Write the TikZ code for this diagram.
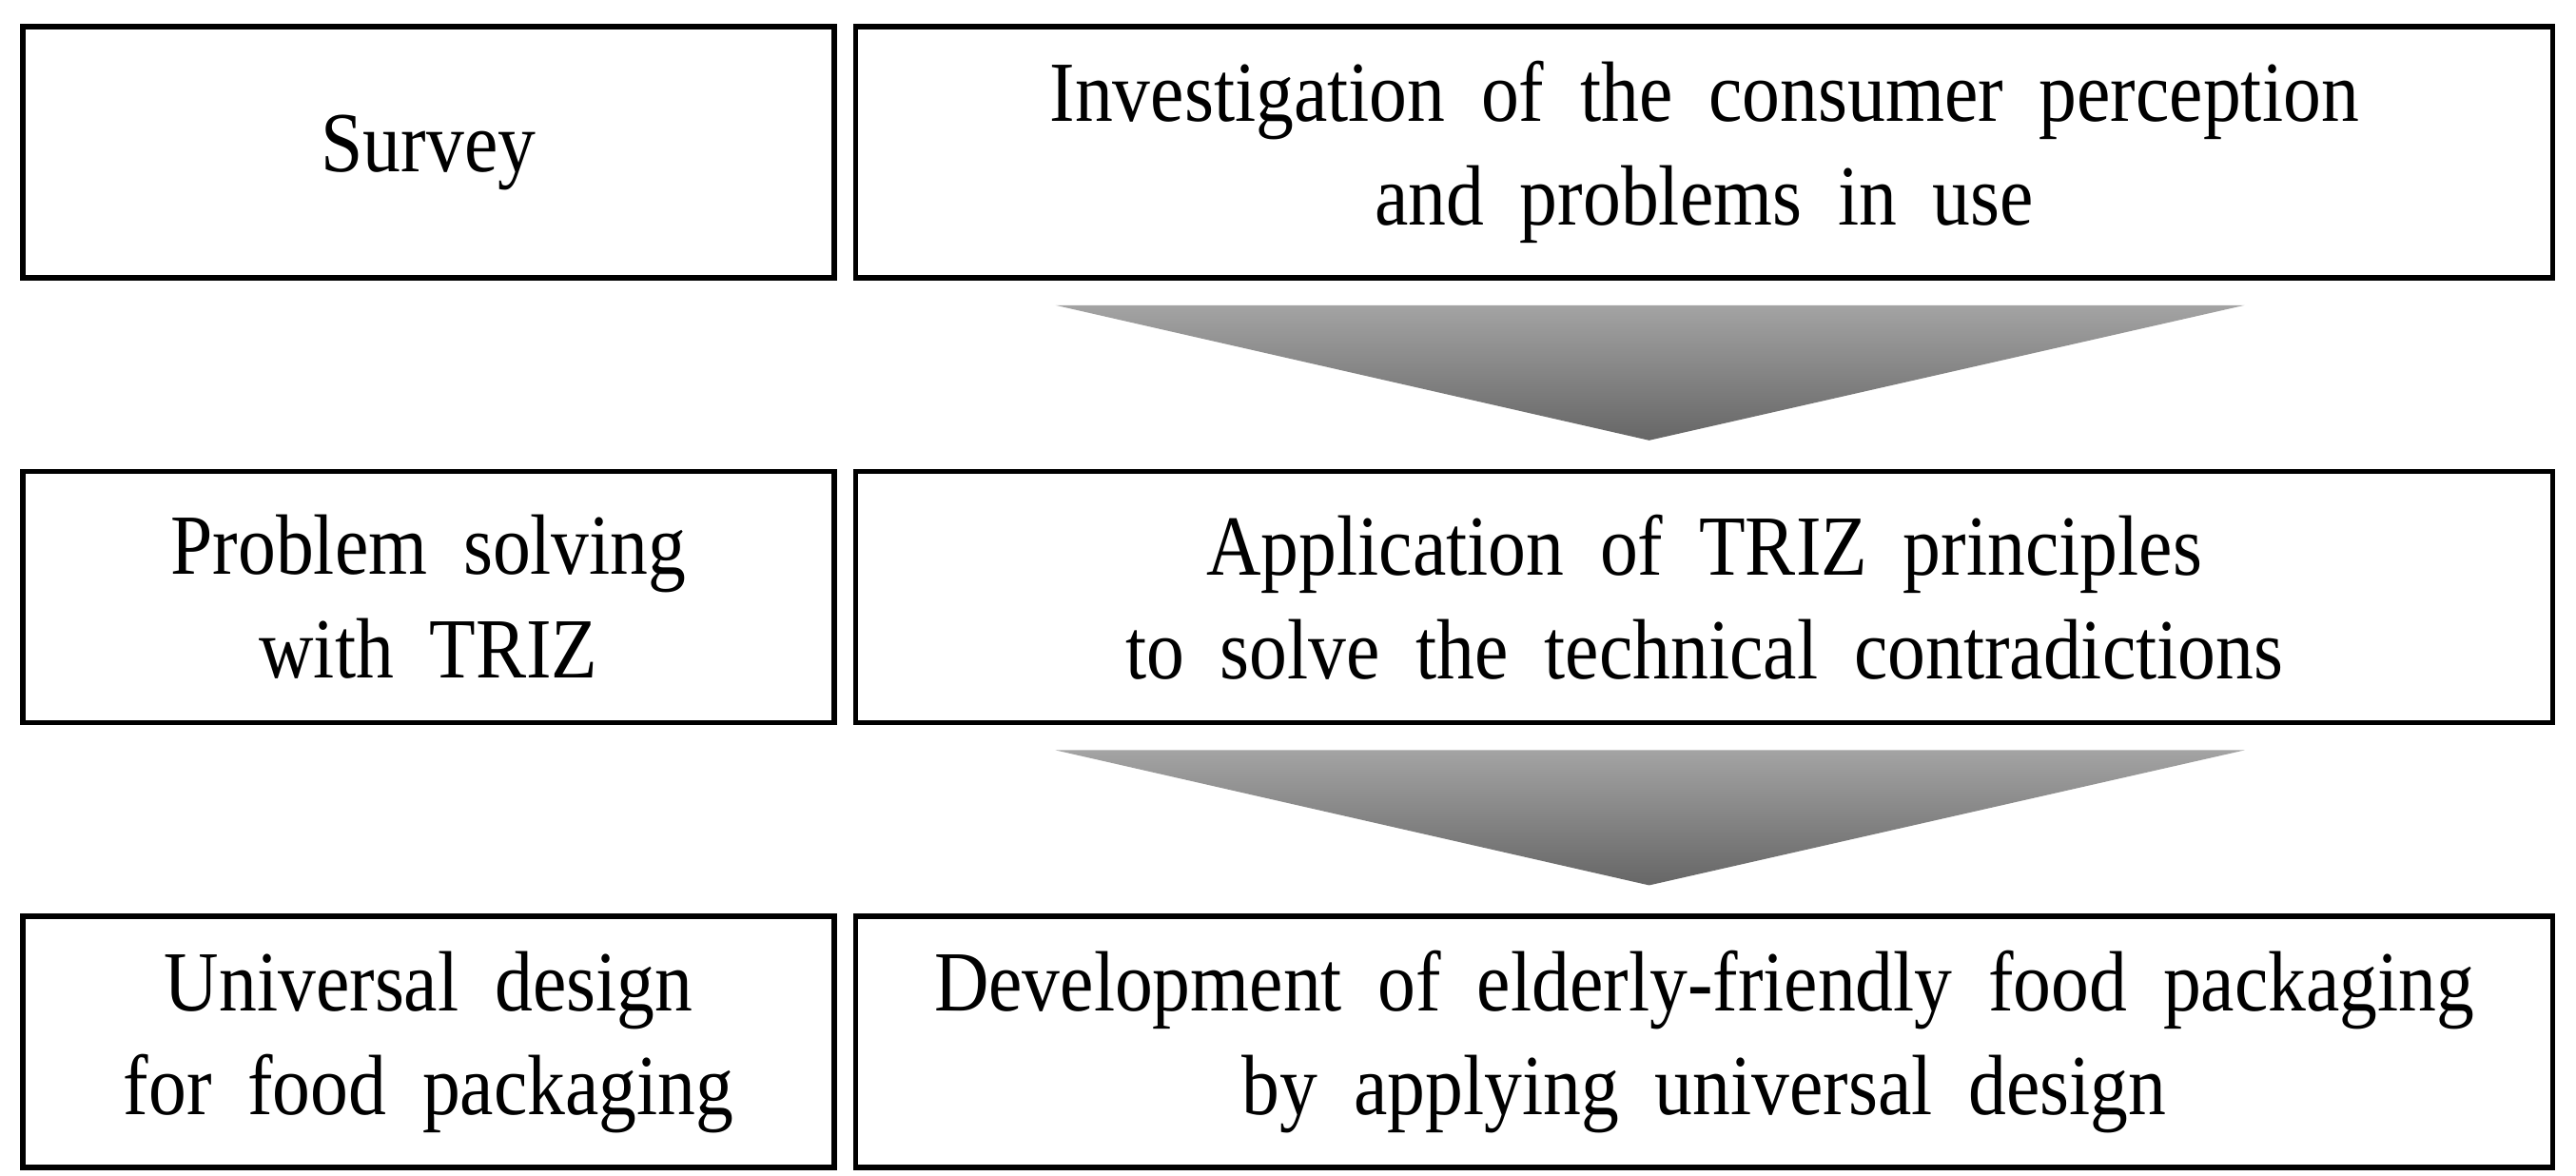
\documentclass[tikz,border=0pt]{standalone}
\usepackage{fontspec}
\setmainfont{Liberation Serif}[FakeStretch=0.885]
\usetikzlibrary{positioning,calc}
\newcommand{\stepfont}{\fontsize{25.6}{31}\selectfont\spaceskip=0.42em plus 0.1em\relax}

\begin{document}
\begin{tikzpicture}[x=1cm,y=1cm,node distance=1.98 and 0.17,
  box/.style={draw,line width=1.6pt,minimum height=2.64cm,align=center,inner sep=0pt,font=\stepfont},
  stepL/.style={box,minimum width=8.53cm},
  stepR/.style={box,minimum width=17.84cm},
  flow/.style={top color=black!36,bottom color=black!60,draw=none}]
  \useasboundingbox (0,0) rectangle (27.08,-12.36);
  \node [stepL] (survey) at (4.505,-1.6) {Survey};
  \node [stepR, right=of survey] (inv) {Investigation of the consumer perception\\and problems in use};
  \node [stepL, below=of survey] (triz) {Problem solving\\with TRIZ};
  \node [stepR, right=of triz] (app) {Application of TRIZ principles\\to solve the technical contradictions};
  \node [stepL, below=of triz] (udesign) {Universal design\\for food packaging};
  \node [stepR, right=of udesign] (dev) {Development of elderly-friendly food packaging\\by applying universal design};
  \shade [flow] ($(inv.south)+(-6.82,-0.26)$) -- ++(12.5,0) -- ($(inv.south)+(-0.58,-1.68)$) -- cycle;
  \shade [flow] ($(app.south)+(-6.82,-0.26)$) -- ++(12.5,0) -- ($(app.south)+(-0.58,-1.68)$) -- cycle;
\end{tikzpicture}
\end{document}
